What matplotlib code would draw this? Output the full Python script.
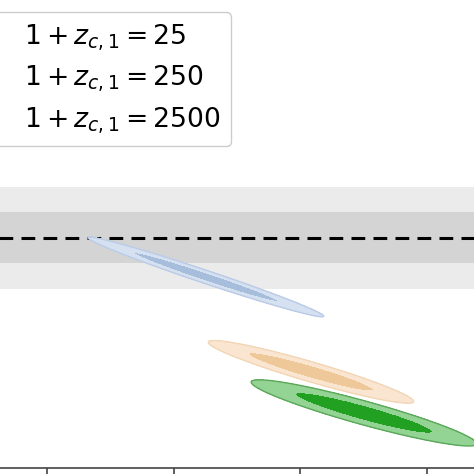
import numpy as np
import matplotlib
matplotlib.use("Agg")
import matplotlib.pyplot as plt
from matplotlib.lines import Line2D

# ── data ──────────────────────────────────────────────────────────────────────
labels = [r"$1+z_{c,1}=25$", r"$1+z_{c,1}=250$", r"$1+z_{c,1}=2500$"]
means_x = [1.255, 2.084, 2.502]
means_y = [-1.53, -5.25, -6.86]
sigma_x = [0.374, 0.326, 0.358]
sigma_y = [0.628, 0.494, 0.522]
rho = [-0.985, -0.944, -0.929]

ref_value = 0.0
band_inner = 1.0
band_outer = 2.0
xticks = [0, 1, 2, 3]

inner_cols = ["#a7bddc", "#eec899", "#22a022"]
outer_cols = ["#d5e0f0", "#f9e5d0", "#93d393"]
edge_cols = ["#b9cbe6", "#f2d6b6", "#5aa85a"]

chi2_levels = [0.0, 2.30, 6.18]   # 68% / 95% for 2 params

# ── figure ────────────────────────────────────────────────────────────────────
fig = plt.figure(figsize=(4.74, 4.74), dpi=100)
ax = fig.add_axes([-0.0078, 0.0127, 1.0156, 1.0232])
ax.set_xlim(-0.4, 3.4)
ax.set_ylim(-9.02, 10)

ax.axhspan(ref_value - band_outer, ref_value + band_outer, color="#ebebeb", lw=0, zorder=0)
ax.axhspan(ref_value - band_inner, ref_value + band_inner, color="#d4d4d4", lw=0, zorder=0)
ax.axhline(ref_value, color="black", lw=2.2, ls=(0, (4.5, 2.7)), zorder=1)

for i in range(len(labels)):
    gx = np.linspace(means_x[i] - 3.5 * sigma_x[i], means_x[i] + 3.5 * sigma_x[i], 700)
    gy = np.linspace(means_y[i] - 3.5 * sigma_y[i], means_y[i] + 3.5 * sigma_y[i], 700)
    X, Y = np.meshgrid(gx, gy)
    dx = (X - means_x[i]) / sigma_x[i]
    dy = (Y - means_y[i]) / sigma_y[i]
    r = rho[i]
    chi2 = (dx**2 - 2 * r * dx * dy + dy**2) / (1 - r**2)
    ax.contourf(X, Y, chi2, levels=chi2_levels, colors=[inner_cols[i], outer_cols[i]], zorder=2)
    ax.contour(X, Y, chi2, levels=[chi2_levels[2]], colors=[edge_cols[i]], linewidths=1.0, zorder=3)

for s in ["top", "left", "right"]:
    ax.spines[s].set_visible(False)
ax.spines["bottom"].set_color("#444444")
ax.spines["bottom"].set_linewidth(1.2)
ax.set_xticks(xticks)
ax.set_yticks([])
ax.tick_params(axis="x", direction="out", length=5, width=1.2, color="#444444", labelbottom=False)

handles = [Line2D([], [], alpha=0) for _ in labels]
fig.legend(handles, labels, loc="upper left", bbox_to_anchor=(-0.017, 0.974),
           borderaxespad=0, fontsize=19.2, handlelength=0.8, handletextpad=0.0,
           labelspacing=0.4, borderpad=0.4, framealpha=1, edgecolor="#cccccc",
           fancybox=True)

plt.savefig("out.png", dpi=100)
